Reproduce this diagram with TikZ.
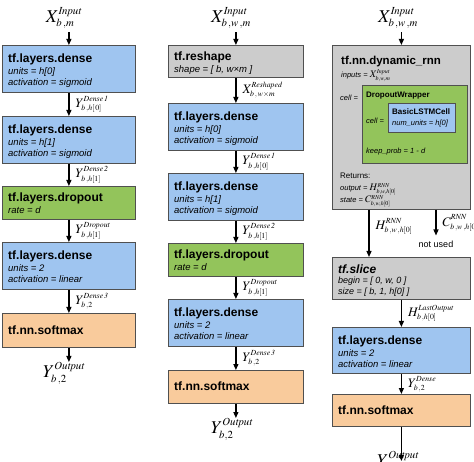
\documentclass[tikz,border=0pt]{standalone}
\usepackage{mathptmx}
\usepackage[no-math]{fontspec}
\setmainfont{Liberation Sans}
\usetikzlibrary{arrows.meta}
\definecolor{bluec}{HTML}{9FC5F0}
\definecolor{greenc}{HTML}{93C45B}
\definecolor{orangec}{HTML}{F9CB9C}
\definecolor{greyc}{HTML}{CCCCCC}
\definecolor{bordc}{HTML}{505050}
\newcommand\ttl[1]{{\fontsize{12}{12}\selectfont\upshape\bfseries #1}}
\newcommand\iol[3]{$#1^{\scriptscriptstyle\mathit{#2}\vrule width0pt depth0.12em}_{\scriptscriptstyle\vrule width0pt height0.42em #3}$}
\newcommand\mybox[8]{%
  \node[boxst,fill=#6,minimum width=#4pt,minimum height=#5pt] (#1) at (#2,#3) {};
  \node[txt] (#1t) at ({#2+6},{#3+#7}) {#8};}
\tikzset{
  boxst/.style={draw=bordc,line width=0.8pt,anchor=north west,inner sep=0pt},
  txt/.style={anchor=north west,inner sep=0pt,align=left,font=\fontsize{9.5}{11}\selectfont\itshape},
  arr/.style={line width=1.2pt,-{Triangle[length=6pt,width=5pt]}},
  elab/.style={font=\fontsize{13}{13}\selectfont,inner sep=0pt,anchor=west,xshift=6pt},
  iolab/.style={font=\fontsize{18}{18}\selectfont,inner sep=0pt},
  small/.style={anchor=base west,inner sep=0pt,font=\fontsize{7.5}{9}\selectfont\itshape},
  smallb/.style={anchor=base west,inner sep=0pt,font=\fontsize{8}{9}\selectfont\bfseries},
}
\begin{document}
\begin{tikzpicture}[x=1pt,y=-1pt]
\useasboundingbox (0,0) rectangle (474,462);
% ---------- column 1 ----------
\node[iolab] (in1) at (64,18) {\iol{X}{Input}{b\,,m}};
\mybox{d11}{2}{45}{133}{47}{bluec}{8.4}{\ttl{tf.layers.dense}\\[1pt] units = h[0]\\ activation = sigmoid}
\mybox{d12}{2}{116}{133}{47}{bluec}{8.4}{\ttl{tf.layers.dense}\\[1pt] units = h[1]\\ activation = sigmoid}
\mybox{dr1}{2}{186}{133}{33}{greenc}{6.4}{\ttl{tf.layers.dropout}\\[1pt] rate = d}
\mybox{d13}{2}{242}{133}{47}{bluec}{8.4}{\ttl{tf.layers.dense}\\[1pt] units = 2\\ activation = linear}
\mybox{sm1}{2}{313}{133}{34}{orangec}{12.4}{\ttl{tf.nn.softmax}}
\node[iolab,anchor=north] (out1) at (64,362) {\iol{Y}{Output}{b\,,2}};
\draw[arr,shorten <=3pt] (in1.south -| d11.north) -- (d11.north);
\draw[arr] (d11.south) -- (d12.north) node[elab,midway] (l11) {\iol{Y}{Dense\,1}{b\,,h[\,0]}};
\draw[arr] (d12.south) -- (dr1.north) node[elab,midway] (l12) {\iol{Y}{Dense\,2}{b\,,h[1]}};
\draw[arr] (dr1.south) -- (d13.north) node[elab,midway] (l13) {\iol{Y}{Dropout}{b\,,h[1]}};
\draw[arr] (d13.south) -- (sm1.north) node[elab,midway] (l14) {\iol{Y}{Dense\,3}{b\,,2}};
\draw[arr] (sm1.south) -- (sm1.south |- out1.north);
% ---------- column 2 ----------
\node[iolab] (in2) at (231,18) {\iol{X}{Input}{b\,,w\,,m}};
\mybox{rs2}{168}{45}{135}{32}{greyc}{6.4}{\ttl{tf.reshape}\\[1pt] shape = [ b, w×m ]}
\mybox{d21}{168}{103}{135}{47}{bluec}{8.4}{\ttl{tf.layers.dense}\\[1pt] units = h[0]\\ activation = sigmoid}
\mybox{d22}{168}{173}{135}{47}{bluec}{8.4}{\ttl{tf.layers.dense}\\[1pt] units = h[1]\\ activation = sigmoid}
\mybox{dr2}{168}{243}{135}{33}{greenc}{6.4}{\ttl{tf.layers.dropout}\\[1pt] rate = d}
\mybox{d23}{168}{299}{135}{47}{bluec}{8.4}{\ttl{tf.layers.dense}\\[1pt] units = 2\\ activation = linear}
\mybox{sm2}{168}{370}{135}{33}{orangec}{12}{\ttl{tf.nn.softmax}}
\node[iolab,anchor=north] (out2) at (232,418) {\iol{Y}{Output}{b,2}};
\draw[arr,shorten <=3pt] (in2.south -| rs2.north) -- (rs2.north);
\draw[arr] (rs2.south) -- (d21.north) node[elab,midway] (l20) {\iol{X}{Reshaped}{b\,,\,w\times m}};
\draw[arr] (d21.south) -- (d22.north) node[elab,midway] (l21) {\iol{Y}{Dense\,1}{b\,,h[\,0]}};
\draw[arr] (d22.south) -- (dr2.north) node[elab,midway] (l22) {\iol{Y}{Dense\,2}{b\,,h[1]}};
\draw[arr] (dr2.south) -- (d23.north) node[elab,midway] (l23) {\iol{Y}{Dropout}{b\,,h[1]}};
\draw[arr] (d23.south) -- (sm2.north) node[elab,midway] (l24) {\iol{Y}{Dense\,3}{b\,,2}};
\draw[arr] (sm2.south) -- (sm2.south |- out2.north);
% ---------- column 3 ----------
\node[iolab] (in3) at (398,18) {\iol{X}{Input}{b\,,w\,,m}};
\node[boxst,fill=greyc,minimum width=138pt,minimum height=164pt] (rnn) at (332,45) {};
\node[anchor=base west,inner sep=0pt,font=\fontsize{11.5}{12}\selectfont\bfseries] (rnnT) at (341,65) {tf.nn.dynamic\_rnn};
\node[small] (rnnI) at (341,78) {inputs = \mbox{\fontsize{10}{10}\selectfont\upshape$X^{\scriptscriptstyle\mathit{Input}}_{\scriptscriptstyle b,w,m}$}};
\node[small] (cell1) at (340,101) {cell =};
\node[boxst,fill=greenc,minimum width=105pt,minimum height=78pt] (dw) at (362,85) {};
\node[smallb] (dwT) at (366,98) {DropoutWrapper};
\node[small] (cell2) at (366,124) {cell =};
\node[boxst,fill=bluec,minimum width=67pt,minimum height=29pt] (lstm) at (388,103) {};
\node[smallb] (lstmT) at (392,115) {BasicLSTMCell};
\node[small] (lstmU) at (392,126) {num\_units = h[0]};
\node[small] (kp) at (366,154) {keep\_prob = 1 - d};
\node[small,font=\fontsize{8}{9}\selectfont] (ret) at (340,179) {Returns:};
\node[small] (outp) at (340,191) {output = \mbox{\fontsize{10}{10}\selectfont\upshape$H^{\scriptscriptstyle\mathit{RNN}}_{\scriptscriptstyle b,w,h[0]}$}};
\node[small] (st) at (340,203) {state = \mbox{\fontsize{10}{10}\selectfont\upshape$C^{\scriptscriptstyle\mathit{RNN}}_{\scriptscriptstyle b,w,h[0]}$}};
\mybox{sl3}{332}{257}{138}{42}{greyc}{7.4}{\ttl{\itshape tf.slice}\\[-0.5pt] {\fontsize{9}{10.5}\selectfont begin = [ 0, w, 0 ]}\\[-0.5pt] {\fontsize{9}{10.5}\selectfont size = [ b, 1, h[0] ]}}
\mybox{d33}{332}{327}{138}{46}{bluec}{8.4}{\ttl{tf.layers.dense}\\[1pt] units = 2\\ activation = linear}
\mybox{sm3}{332}{394}{138}{32}{orangec}{11.5}{\ttl{tf.nn.softmax}}
\node[iolab,anchor=north] (out3) at (398,451) {\iol{Y}{Output}{b\,,2}};
\node[inner sep=0pt,font=\fontsize{9}{10}\selectfont] (nu) at (436,244) {not used};
\draw[arr,shorten <=3pt] (in3.south -| rnn.north) -- (rnn.north);
\draw[arr] ([xshift=37pt]rnn.south west) -- ([xshift=37pt]sl3.north west)
  node[elab,pos=0.35] (lH) {\iol{H}{RNN}{b\,,w\,,h[0]}};
\draw[arr,shorten >=5pt] ([xshift=104pt]rnn.south west) -- (nu.north)
  node[elab,midway,yshift=2pt] (lC) {\iol{C}{RNN}{b\,,w\,,h[0]}};
\draw[arr] (sl3.south) -- (d33.north) node[elab,midway] (l31) {\iol{H}{LastOutput}{b\,,h[0]}};
\draw[arr] (d33.south) -- (sm3.north) node[elab,midway] (l32) {\iol{Y}{Dense}{b\,,2}};
\draw[arr] (sm3.south) -- ([yshift=-10pt]sm3.south |- out3.north);
\end{tikzpicture}
\end{document}
